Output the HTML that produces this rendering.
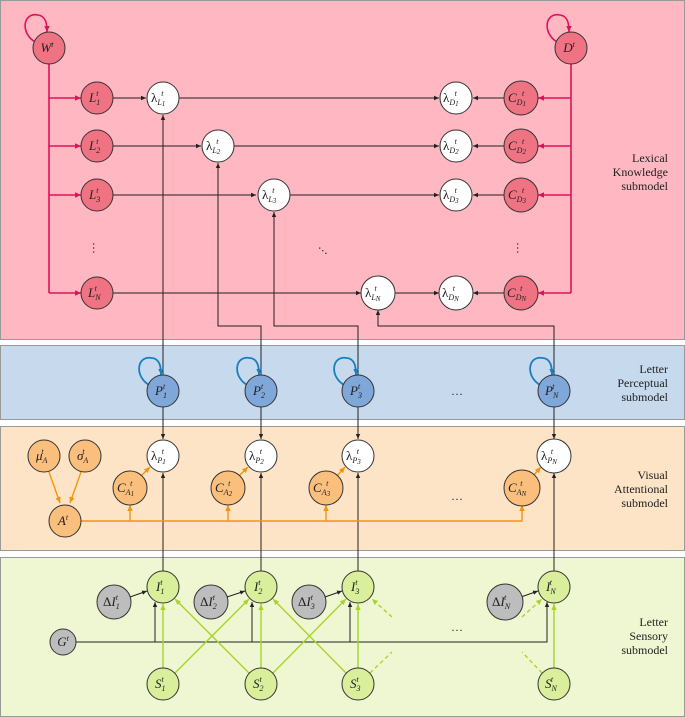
<!DOCTYPE html>
<html><head><meta charset="utf-8"><style>
html,body{margin:0;padding:0;background:#fff}
svg{display:block}
text{font-family:"Liberation Serif",serif;fill:#222}
.lab{font-size:12px;text-anchor:end}
</style></head><body>
<svg width="685" height="717" viewBox="0 0 685 717" xmlns="http://www.w3.org/2000/svg">
<defs>
<marker id="ak" markerWidth="6" markerHeight="6" refX="5" refY="3" orient="auto" markerUnits="userSpaceOnUse"><path d="M0,0.8 L5,3 L0,5.2z" fill="#222"/></marker>
<marker id="am" markerWidth="7" markerHeight="7" refX="6" refY="3.5" orient="auto" markerUnits="userSpaceOnUse"><path d="M0,0.8 L6,3.5 L0,6.2z" fill="#e0105a"/></marker>
<marker id="ab" markerWidth="7" markerHeight="7" refX="6" refY="3.5" orient="auto" markerUnits="userSpaceOnUse"><path d="M0,0.8 L6,3.5 L0,6.2z" fill="#1a7ec0"/></marker>
<marker id="ao" markerWidth="7" markerHeight="7" refX="6" refY="3.5" orient="auto" markerUnits="userSpaceOnUse"><path d="M0,0.8 L6,3.5 L0,6.2z" fill="#f0960e"/></marker>
<marker id="ag" markerWidth="7" markerHeight="7" refX="6" refY="3.5" orient="auto" markerUnits="userSpaceOnUse"><path d="M0,0.8 L6,3.5 L0,6.2z" fill="#a8d42a"/></marker>
</defs>
<rect x="0.5" y="0.5" width="684" height="339" fill="#ffb7c2" stroke="#999"/>
<rect x="0.5" y="345.5" width="684" height="74" fill="#c6d9ed" stroke="#999"/>
<rect x="0.5" y="426.5" width="684" height="124" fill="#fde4c6" stroke="#999"/>
<rect x="0.5" y="557.5" width="684" height="159" fill="#eff7d2" stroke="#999"/>

<text class="lab" x="668" y="162">Lexical</text>
<text class="lab" x="668" y="176">Knowledge</text>
<text class="lab" x="668" y="190">submodel</text>
<text class="lab" x="668" y="373">Letter</text>
<text class="lab" x="668" y="387">Perceptual</text>
<text class="lab" x="668" y="401">submodel</text>
<text class="lab" x="668" y="479">Visual</text>
<text class="lab" x="668" y="493">Attentional</text>
<text class="lab" x="668" y="507">submodel</text>
<text class="lab" x="668" y="626">Letter</text>
<text class="lab" x="668" y="640">Sensory</text>
<text class="lab" x="668" y="654">submodel</text>

<g stroke="#e0105a" stroke-width="1.6" fill="none">
<path d="M37,43 C20,35 22,12 38,15 C46,16 47,24 47,32" marker-end="url(#am)"/>
<path d="M559,43 C542,35 544,12 560,15 C568,16 569,24 569,32" marker-end="url(#am)"/>
<path d="M49,64 V293"/>
<path d="M49,98 H81" marker-end="url(#am)"/>
<path d="M49,146 H81" marker-end="url(#am)"/>
<path d="M49,195 H81" marker-end="url(#am)"/>
<path d="M49,293 H81" marker-end="url(#am)"/>
<path d="M571,64 V293"/>
<path d="M571,98 H538" marker-end="url(#am)"/>
<path d="M571,146 H538" marker-end="url(#am)"/>
<path d="M571,195 H538" marker-end="url(#am)"/>
<path d="M571,293 H538" marker-end="url(#am)"/>
</g>
<g stroke="#222" stroke-width="1" fill="none">
<path d="M113,98 H146" marker-end="url(#ak)"/>
<path d="M179,98 H439" marker-end="url(#ak)"/>
<path d="M113,146 H201" marker-end="url(#ak)"/>
<path d="M234,146 H439" marker-end="url(#ak)"/>
<path d="M113,195 H256" marker-end="url(#ak)"/>
<path d="M289,195 H439" marker-end="url(#ak)"/>
<path d="M113,293 H361" marker-end="url(#ak)"/>
<path d="M394,293 H439" marker-end="url(#ak)"/>
<path d="M505,98 H473" marker-end="url(#ak)"/>
<path d="M505,146 H473" marker-end="url(#ak)"/>
<path d="M505,195 H473" marker-end="url(#ak)"/>
<path d="M505,293 H473" marker-end="url(#ak)"/>
<path d="M163,375 V115" marker-end="url(#ak)"/>
<path d="M261,375 V326 H218 V163" marker-end="url(#ak)"/>
<path d="M358,375 V326 H274 V212" marker-end="url(#ak)"/>
<path d="M554,375 V326 H378 V310" marker-end="url(#ak)"/>
<path d="M163,407 V439" marker-end="url(#ak)"/>
<path d="M261,407 V439" marker-end="url(#ak)"/>
<path d="M358,407 V439" marker-end="url(#ak)"/>
<path d="M554,407 V439" marker-end="url(#ak)"/>
<path d="M163,571 V473" marker-end="url(#ak)"/>
<path d="M261,571 V473" marker-end="url(#ak)"/>
<path d="M358,571 V473" marker-end="url(#ak)"/>
<path d="M554,571 V473" marker-end="url(#ak)"/>
<path d="M130,597 L147,591" marker-end="url(#ak)"/>
<path d="M227,597 L245,591" marker-end="url(#ak)"/>
<path d="M325,597 L342,591" marker-end="url(#ak)"/>
<path d="M521,597 L538,591" marker-end="url(#ak)"/>
<path d="M76,642 H547 V602" marker-end="url(#ak)"/>
<path d="M155,642 V602" marker-end="url(#ak)"/>
<path d="M252,642 V602" marker-end="url(#ak)"/>
<path d="M350,642 V602" marker-end="url(#ak)"/>
</g>
<g stroke="#1a7ec0" stroke-width="1.8" fill="none">
<path d="M151,386 C134,378 136,355 152,358 C160,359 161,367 161,375" marker-end="url(#ab)"/>
<path d="M249,386 C232,378 234,355 250,358 C258,359 259,367 259,375" marker-end="url(#ab)"/>
<path d="M346,386 C329,378 331,355 347,358 C355,359 356,367 356,375" marker-end="url(#ab)"/>
<path d="M542,386 C525,378 527,355 543,358 C551,359 552,367 552,375" marker-end="url(#ab)"/>
</g>
<g stroke="#f0960e" stroke-width="1.4" fill="none">
<path d="M49,472 L60,503" marker-end="url(#ao)"/>
<path d="M81,472 L70,503" marker-end="url(#ao)"/>
<path d="M81,521 H522 V505" marker-end="url(#ao)"/>
<path d="M130,521 V505" marker-end="url(#ao)"/>
<path d="M228,521 V505" marker-end="url(#ao)"/>
<path d="M326,521 V505" marker-end="url(#ao)"/>
<path d="M141,476 L150,467" marker-end="url(#ao)"/>
<path d="M239,476 L248,467" marker-end="url(#ao)"/>
<path d="M337,476 L345,467" marker-end="url(#ao)"/>
<path d="M533,476 L541,467" marker-end="url(#ao)"/>
</g>
<g stroke="#a8d42a" stroke-width="1.4" fill="none">
<path d="M163,668 V604" marker-end="url(#ag)"/>
<path d="M261,668 V604" marker-end="url(#ag)"/>
<path d="M358,668 V604" marker-end="url(#ag)"/>
<path d="M554,668 V604" marker-end="url(#ag)"/>
<path d="M175,673 L249,599" marker-end="url(#ag)"/>
<path d="M249,673 L175,599" marker-end="url(#ag)"/>
<path d="M273,673 L346,599" marker-end="url(#ag)"/>
<path d="M346,673 L273,599" marker-end="url(#ag)"/>
<path d="M392,617 L372,599" stroke-dasharray="4,3" marker-end="url(#ag)"/>
<path d="M370,673 L392,652" stroke-dasharray="4,3"/>
<path d="M522,617 L542,599" stroke-dasharray="4,3" marker-end="url(#ag)"/>
<path d="M542,673 L522,652" stroke-dasharray="4,3"/>
</g>

<g stroke="#333" stroke-width="1">
<g fill="#f07383">
<circle cx="49" cy="48" r="16"/><circle cx="571" cy="48" r="16"/>
<circle cx="97" cy="98" r="16"/><circle cx="97" cy="146" r="16"/><circle cx="97" cy="195" r="16"/><circle cx="97" cy="293" r="16"/>
<circle cx="521" cy="98" r="17"/><circle cx="521" cy="146" r="17"/><circle cx="521" cy="195" r="17"/><circle cx="521" cy="293" r="17"/>
</g>
<g fill="#fff">
<circle cx="163" cy="98" r="16"/><circle cx="218" cy="146" r="16"/><circle cx="274" cy="195" r="16"/><circle cx="378" cy="293" r="17"/>
<circle cx="456" cy="98" r="16"/><circle cx="456" cy="146" r="16"/><circle cx="456" cy="195" r="16"/><circle cx="456" cy="293" r="17"/>
<circle cx="163" cy="456" r="16"/><circle cx="261" cy="456" r="16"/><circle cx="358" cy="456" r="16"/><circle cx="554" cy="456" r="17"/>
</g>
<g fill="#80a7d9">
<circle cx="163" cy="391" r="16"/><circle cx="261" cy="391" r="16"/><circle cx="358" cy="391" r="16"/><circle cx="554" cy="391" r="16"/>
</g>
<g fill="#fbbf7d">
<circle cx="44" cy="456" r="16"/><circle cx="85" cy="456" r="16"/><circle cx="65" cy="521" r="16"/>
<circle cx="130" cy="488" r="17"/><circle cx="228" cy="488" r="17"/><circle cx="326" cy="488" r="17"/><circle cx="522" cy="488" r="18"/>
</g>
<g fill="#d9ef9c">
<circle cx="163" cy="587" r="16"/><circle cx="261" cy="587" r="16"/><circle cx="358" cy="587" r="16"/><circle cx="554" cy="587" r="16"/>
<circle cx="163" cy="684" r="16"/><circle cx="261" cy="684" r="16"/><circle cx="358" cy="684" r="16"/><circle cx="554" cy="684" r="16"/>
</g>
<g fill="#bdbdbd">
<circle cx="114" cy="602" r="17"/><circle cx="211" cy="602" r="17"/><circle cx="309" cy="602" r="17"/><circle cx="505" cy="602" r="18"/>
<circle cx="63" cy="642" r="13"/>
</g>
</g>

<g font-family="Liberation Serif,serif" font-style="italic" font-size="13" text-anchor="middle">
<text x="47" y="52">W<tspan font-size="8" dy="-5">t</tspan></text>
<text x="569" y="52">D<tspan font-size="8" dy="-5">t</tspan></text>
<text x="63" y="646">G<tspan font-size="8" dy="-5">t</tspan></text>
<text x="63" y="525">A<tspan font-size="8" dy="-5">t</tspan></text>
</g>
<g font-family="Liberation Serif,serif" font-style="italic" font-size="13">
<text x="89" y="102">L<tspan font-size="8" dy="3">1</tspan><tspan font-size="8" dx="-4" dy="-9">t</tspan></text>
<text x="89" y="150">L<tspan font-size="8" dy="3">2</tspan><tspan font-size="8" dx="-4" dy="-9">t</tspan></text>
<text x="89" y="199">L<tspan font-size="8" dy="3">3</tspan><tspan font-size="8" dx="-4" dy="-9">t</tspan></text>
<text x="88" y="297">L<tspan font-size="8" dy="3">N</tspan><tspan font-size="8" dx="-6" dy="-9">t</tspan></text>
<text x="155" y="395">P<tspan font-size="8" dy="3">1</tspan><tspan font-size="8" dx="-4" dy="-9">t</tspan></text>
<text x="253" y="395">P<tspan font-size="8" dy="3">2</tspan><tspan font-size="8" dx="-4" dy="-9">t</tspan></text>
<text x="350" y="395">P<tspan font-size="8" dy="3">3</tspan><tspan font-size="8" dx="-4" dy="-9">t</tspan></text>
<text x="545" y="395">P<tspan font-size="8" dy="3">N</tspan><tspan font-size="8" dx="-6" dy="-9">t</tspan></text>
<text x="156" y="591">I<tspan font-size="8" dy="3">1</tspan><tspan font-size="8" dx="-4" dy="-9">t</tspan></text>
<text x="254" y="591">I<tspan font-size="8" dy="3">2</tspan><tspan font-size="8" dx="-4" dy="-9">t</tspan></text>
<text x="351" y="591">I<tspan font-size="8" dy="3">3</tspan><tspan font-size="8" dx="-4" dy="-9">t</tspan></text>
<text x="546" y="591">I<tspan font-size="8" dy="3">N</tspan><tspan font-size="8" dx="-6" dy="-9">t</tspan></text>
<text x="155" y="688">S<tspan font-size="8" dy="3">1</tspan><tspan font-size="8" dx="-4" dy="-9">t</tspan></text>
<text x="253" y="688">S<tspan font-size="8" dy="3">2</tspan><tspan font-size="8" dx="-4" dy="-9">t</tspan></text>
<text x="350" y="688">S<tspan font-size="8" dy="3">3</tspan><tspan font-size="8" dx="-4" dy="-9">t</tspan></text>
<text x="545" y="688">S<tspan font-size="8" dy="3">N</tspan><tspan font-size="8" dx="-6" dy="-9">t</tspan></text>
<text x="103" y="606"><tspan font-style="normal">Δ</tspan>I<tspan font-size="8" dy="3">1</tspan><tspan font-size="8" dx="-4" dy="-9">t</tspan></text>
<text x="200" y="606"><tspan font-style="normal">Δ</tspan>I<tspan font-size="8" dy="3">2</tspan><tspan font-size="8" dx="-4" dy="-9">t</tspan></text>
<text x="298" y="606"><tspan font-style="normal">Δ</tspan>I<tspan font-size="8" dy="3">3</tspan><tspan font-size="8" dx="-4" dy="-9">t</tspan></text>
<text x="492" y="606"><tspan font-style="normal">Δ</tspan>I<tspan font-size="8" dy="3">N</tspan><tspan font-size="8" dx="-6" dy="-9">t</tspan></text>
<text x="36" y="460">μ<tspan font-size="8" dy="3">A</tspan><tspan font-size="8" dx="-6" dy="-9">t</tspan></text>
<text x="77" y="460">σ<tspan font-size="8" dy="3">A</tspan><tspan font-size="8" dx="-6" dy="-9">t</tspan></text>
<text x="117" y="492">C<tspan font-size="8" dy="3">A</tspan><tspan font-size="7" dy="1">1</tspan><tspan font-size="8" dx="-4" dy="-10">t</tspan></text>
<text x="215" y="492">C<tspan font-size="8" dy="3">A</tspan><tspan font-size="7" dy="1">2</tspan><tspan font-size="8" dx="-4" dy="-10">t</tspan></text>
<text x="313" y="492">C<tspan font-size="8" dy="3">A</tspan><tspan font-size="7" dy="1">3</tspan><tspan font-size="8" dx="-4" dy="-10">t</tspan></text>
<text x="508" y="492">C<tspan font-size="8" dy="3">A</tspan><tspan font-size="7" dy="1">N</tspan><tspan font-size="8" dx="-6" dy="-10">t</tspan></text>
<text x="508" y="102">C<tspan font-size="8" dy="3">D</tspan><tspan font-size="7" dy="1">1</tspan><tspan font-size="8" dx="-4" dy="-10">t</tspan></text>
<text x="508" y="150">C<tspan font-size="8" dy="3">D</tspan><tspan font-size="7" dy="1">2</tspan><tspan font-size="8" dx="-4" dy="-10">t</tspan></text>
<text x="508" y="199">C<tspan font-size="8" dy="3">D</tspan><tspan font-size="7" dy="1">3</tspan><tspan font-size="8" dx="-4" dy="-10">t</tspan></text>
<text x="507" y="297">C<tspan font-size="8" dy="3">D</tspan><tspan font-size="7" dy="1">N</tspan><tspan font-size="8" dx="-6" dy="-10">t</tspan></text>
<text x="151" y="102"><tspan font-style="normal">λ</tspan><tspan font-size="8" dy="3">L</tspan><tspan font-size="7" dy="1">1</tspan><tspan font-size="8" dx="-4" dy="-10">t</tspan></text>
<text x="206" y="150"><tspan font-style="normal">λ</tspan><tspan font-size="8" dy="3">L</tspan><tspan font-size="7" dy="1">2</tspan><tspan font-size="8" dx="-4" dy="-10">t</tspan></text>
<text x="262" y="199"><tspan font-style="normal">λ</tspan><tspan font-size="8" dy="3">L</tspan><tspan font-size="7" dy="1">3</tspan><tspan font-size="8" dx="-4" dy="-10">t</tspan></text>
<text x="365" y="297"><tspan font-style="normal">λ</tspan><tspan font-size="8" dy="3">L</tspan><tspan font-size="7" dy="1">N</tspan><tspan font-size="8" dx="-6" dy="-10">t</tspan></text>
<text x="443" y="102"><tspan font-style="normal">λ</tspan><tspan font-size="8" dy="3">D</tspan><tspan font-size="7" dy="1">1</tspan><tspan font-size="8" dx="-4" dy="-10">t</tspan></text>
<text x="443" y="150"><tspan font-style="normal">λ</tspan><tspan font-size="8" dy="3">D</tspan><tspan font-size="7" dy="1">2</tspan><tspan font-size="8" dx="-4" dy="-10">t</tspan></text>
<text x="443" y="199"><tspan font-style="normal">λ</tspan><tspan font-size="8" dy="3">D</tspan><tspan font-size="7" dy="1">3</tspan><tspan font-size="8" dx="-4" dy="-10">t</tspan></text>
<text x="442" y="297"><tspan font-style="normal">λ</tspan><tspan font-size="8" dy="3">D</tspan><tspan font-size="7" dy="1">N</tspan><tspan font-size="8" dx="-6" dy="-10">t</tspan></text>
<text x="151" y="460"><tspan font-style="normal">λ</tspan><tspan font-size="8" dy="3">P</tspan><tspan font-size="7" dy="1">1</tspan><tspan font-size="8" dx="-4" dy="-10">t</tspan></text>
<text x="249" y="460"><tspan font-style="normal">λ</tspan><tspan font-size="8" dy="3">P</tspan><tspan font-size="7" dy="1">2</tspan><tspan font-size="8" dx="-4" dy="-10">t</tspan></text>
<text x="346" y="460"><tspan font-style="normal">λ</tspan><tspan font-size="8" dy="3">P</tspan><tspan font-size="7" dy="1">3</tspan><tspan font-size="8" dx="-4" dy="-10">t</tspan></text>
<text x="541" y="460"><tspan font-style="normal">λ</tspan><tspan font-size="8" dy="3">P</tspan><tspan font-size="7" dy="1">N</tspan><tspan font-size="8" dx="-6" dy="-10">t</tspan></text>
</g>
<g font-family="Liberation Serif,serif" font-size="12" fill="#222" text-anchor="middle">
<text x="97" y="252" transform="rotate(90 97 248)">…</text>
<text x="521" y="252" transform="rotate(90 521 248)">…</text>
<text x="325" y="252" transform="rotate(40 325 248)">…</text>
<text x="457" y="395">…</text>
<text x="457" y="500">…</text>
<text x="457" y="631">…</text>
</g>
</svg>
</body></html>
